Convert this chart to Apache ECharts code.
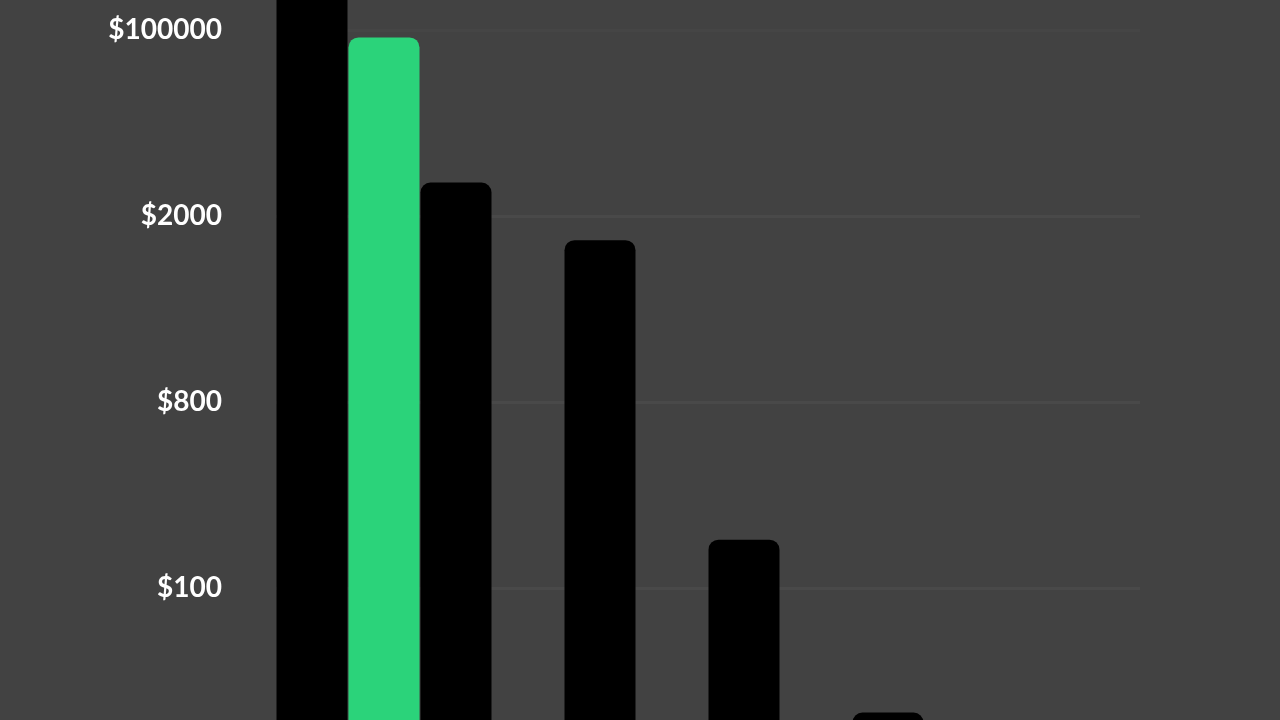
<!DOCTYPE html>
<html>
<head>
<meta charset="utf-8">
<script src="https://cdn.jsdelivr.net/npm/echarts@6/dist/echarts.min.js"></script>
<style>
html,body{margin:0;padding:0;background:#424242;overflow:hidden;width:1280px;height:720px;}
#chart{width:1280px;height:774px;}
</style>
</head>
<body>
<div id="chart"></div>
<script>
// Category slots along the x axis (unlabelled in the picture)
const categories = ['1','2','3','4','5','6','7','8','9','10','11','12'];
// Bar heights, in y-axis tick steps
const values = [4.3, 3.96, 3.18, '-', 2.87, '-', 1.26, '-', 0.33, '-', '-', '-'];
// Tick labels for y-axis steps 0..4
const tickLabels = ['', '$100', '$800', '$2000', '$100000'];
const highlightIndex = 1;

const chart = echarts.init(document.getElementById('chart'));
chart.setOption({
  backgroundColor: '#424242',
  animation: false,
  grid: { left: 276, right: 140, top: 30, bottom: 0, containLabel: false },
  xAxis: {
    type: 'category',
    data: categories,
    axisLine: { show: false },
    axisTick: { show: false },
    axisLabel: { show: false },
    splitLine: { show: false }
  },
  yAxis: {
    type: 'value',
    min: 0,
    max: 4,
    interval: 1,
    axisLine: { show: false },
    axisTick: { show: false },
    splitLine: { show: true, lineStyle: { color: ['#494949', '#494949', '#494949', '#494949', '#454545'], width: 3 } },
    axisLabel: {
      margin: 54,
      color: '#ffffff',
      fontFamily: 'Lato',
      fontWeight: 'bold',
      fontSize: 28,
      padding: [0, 0, 12, 0],
      formatter: function (v) { return tickLabels[Math.round(v)] || ''; }
    }
  },
  series: [{
    type: 'bar',
    data: values,
    barWidth: 71,
    clip: false,
    itemStyle: {
      borderRadius: [10, 10, 0, 0],
      color: function (p) { return p.dataIndex === highlightIndex ? '#2bd37a' : '#000000'; }
    }
  }]
});
</script>
</body>
</html>
